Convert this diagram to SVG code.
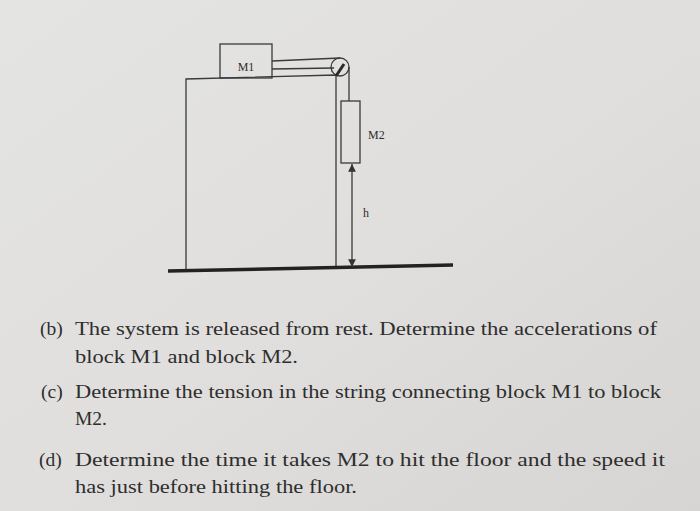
<svg xmlns="http://www.w3.org/2000/svg" width="700" height="511" viewBox="0 0 700 511">
<defs>
<linearGradient id="bg" x1="0" y1="0" x2="1" y2="1"><stop offset="0" stop-color="#e4e4e2"/><stop offset="0.5" stop-color="#e0dfdd"/><stop offset="1" stop-color="#d6d5d3"/></linearGradient>
<marker id="ah" viewBox="0 0 10 10" refX="10" refY="5" markerWidth="6" markerHeight="6" orient="auto-start-reverse"><path d="M0,0 L10,5 L0,10 z" fill="#333"/></marker>
</defs>
<style>
.ln{fill:none;stroke:#3a3a3a;stroke-width:1.3}
.t{font-family:"Liberation Serif",serif;fill:#2e2e2e}
.q{font-size:19.5px}
.lb{font-size:12px}
</style>
<rect width="700" height="511" fill="url(#bg)"/>
<g id="table"><path class="ln" d="M186,269 L186,79 L336,75 L336,269"/></g>
<g id="M1"><rect class="ln" x="220" y="44" width="52" height="34"/><text class="t lb" x="246" y="71" text-anchor="middle">M1</text></g>
<g id="pulley"><circle class="ln" cx="340" cy="67" r="9"/><line x1="336" y1="76" x2="344" y2="64" stroke="#2a2a2a" stroke-width="3"/></g>
<g id="M2"><rect class="ln" x="341" y="101" width="19" height="62"/><text class="t lb" x="368" y="139">M2</text></g>
<g id="floor"><line x1="168" y1="271" x2="453" y2="265" stroke="#222" stroke-width="3.5"/></g>
<g id="connectors">
<path class="ln" d="M272,61 L340,58"/>
<path class="ln" d="M272,69 L334,68"/>
<path class="ln" d="M349,67 L349,101"/>
<line class="ln" x1="352" y1="164" x2="352" y2="267" marker-start="url(#ah)" marker-end="url(#ah)"/>
<text class="t lb" x="363" y="217">h</text>
</g>
<g id="text" class="t q">
<text x="40" y="335">(b)</text><text x="75" y="335" textLength="582" lengthAdjust="spacingAndGlyphs">The system is released from rest. Determine the accelerations of</text>
<text x="75" y="363" textLength="223" lengthAdjust="spacingAndGlyphs">block M1 and block M2.</text>
<text x="41" y="398">(c)</text><text x="75" y="398" textLength="586" lengthAdjust="spacingAndGlyphs">Determine the tension in the string connecting block M1 to block</text>
<text x="75" y="425">M2.</text>
<text x="39" y="466">(d)</text><text x="75" y="466" textLength="590" lengthAdjust="spacingAndGlyphs">Determine the time it takes M2 to hit the floor and the speed it</text>
<text x="75" y="493" textLength="282" lengthAdjust="spacingAndGlyphs">has just before hitting the floor.</text>
</g>
</svg>
